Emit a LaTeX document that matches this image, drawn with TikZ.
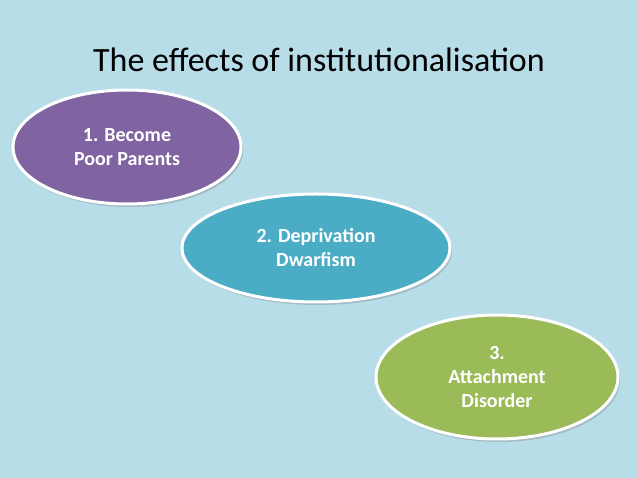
\documentclass[tikz,border=0pt]{standalone}
\usepackage{fontspec}
\setmainfont{Carlito}
\usetikzlibrary{shapes.geometric,shadows}
\definecolor{slideblue}{RGB}{183,221,232}
\definecolor{effectpurple}{RGB}{128,100,162}
\definecolor{effectteal}{RGB}{75,172,198}
\definecolor{effectgreen}{RGB}{155,187,89}

\tikzset{
  effect/.style={ellipse, draw=white, line width=3pt, text=white,
    font=\fontsize{20}{24}\selectfont\bfseries, align=center, inner sep=0pt,
    drop shadow={shadow xshift=2pt, shadow yshift=-3pt, opacity=0.35}}
}

\begin{document}
\begin{tikzpicture}[x=1pt, y=-1pt]
  \fill[slideblue] (0,0) rectangle (638,478);
  \useasboundingbox (0,0) rectangle (638,478);
  % title
  \node[font=\fontsize{34}{40}\selectfont] (title) at (319,60) {The effects of institutionalisation};
  % effects
  \node[effect, fill=effectpurple, minimum width=228pt, minimum height=114pt] (poor) at (127,147) {1. Become\\Poor Parents};
  \node[effect, fill=effectteal, minimum width=268pt, minimum height=108pt] (dwarf) at (316,248) {2. Deprivation\\Dwarfism};
  \node[effect, fill=effectgreen, minimum width=242pt, minimum height=124pt] (attach) at (497,377) {3.\\Attachment\\Disorder};
\end{tikzpicture}
\end{document}
